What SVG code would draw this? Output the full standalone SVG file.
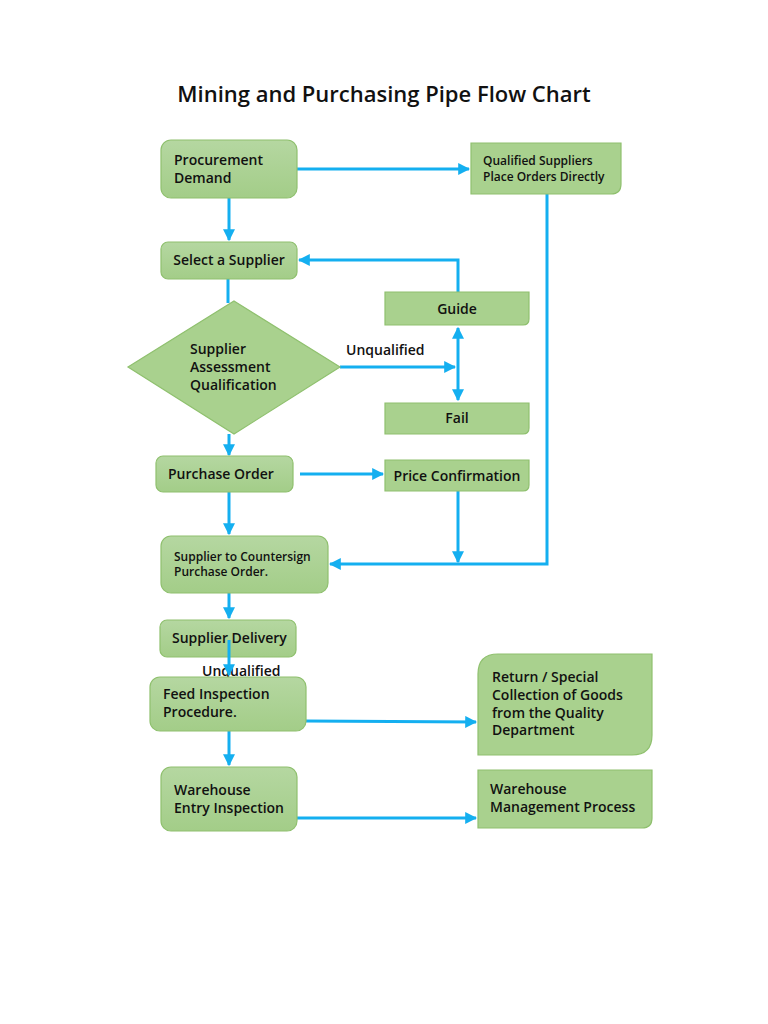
<svg xmlns="http://www.w3.org/2000/svg" width="768" height="1024" viewBox="0 0 768 1024">
<defs>
<linearGradient id="g" x1="0" y1="0" x2="0" y2="1"><stop offset="0" stop-color="#b5d7a1"/><stop offset="1" stop-color="#a3cd88"/></linearGradient>
<marker id="a" viewBox="0 0 10 10" refX="9" refY="5" markerWidth="4" markerHeight="4" orient="auto-start-reverse"><path d="M0,0 L10,5 L0,10 z" fill="#14aff0"/></marker>
</defs>
<style>
text{font-family:"Open Sans","Liberation Sans",sans-serif;font-weight:600;fill:#111}
.n{fill:url(#g);stroke:#8fc06e;stroke-width:1.2}
.f{fill:#a9d18e;stroke:#8fc06e;stroke-width:1.2}
.c line,.c polyline{stroke:#14aff0;stroke-width:3;fill:none}
.m{font-size:14px}.s{font-size:12px}
</style>
<rect width="768" height="1024" fill="#fff"/>
<text x="384" y="102" text-anchor="middle" style="font-size:22px">Mining and Purchasing Pipe Flow Chart</text>
<g class="c">
<line x1="297" y1="169" x2="469" y2="169" marker-end="url(#a)"/>
<line x1="229" y1="198" x2="229" y2="240" marker-end="url(#a)"/>
<polyline points="458,292 458,260 299,260" marker-end="url(#a)"/>
<line x1="228" y1="279" x2="228" y2="303"/>
<line x1="340" y1="367" x2="455" y2="367" marker-end="url(#a)"/>
<line x1="458" y1="328" x2="458" y2="400" marker-start="url(#a)" marker-end="url(#a)"/>
<line x1="229" y1="434" x2="229" y2="455" marker-end="url(#a)"/>
<line x1="300" y1="474" x2="383" y2="474" marker-end="url(#a)"/>
<line x1="229" y1="492" x2="229" y2="534" marker-end="url(#a)"/>
<line x1="458" y1="491" x2="458" y2="562" marker-end="url(#a)"/>
<polyline points="547,194 547,564 330,564" marker-end="url(#a)"/>
<line x1="229" y1="593" x2="229" y2="618" marker-end="url(#a)"/>
<line x1="229" y1="730" x2="229" y2="765" marker-end="url(#a)"/>
<line x1="306" y1="721" x2="476" y2="722" marker-end="url(#a)"/>
<line x1="297" y1="818" x2="476" y2="818" marker-end="url(#a)"/>
</g>
<g id="procurement"><rect class="n" x="161" y="140" width="136" height="58" rx="10"/><text class="m" x="174" y="165">Procurement</text><text class="m" x="174" y="183">Demand</text></g>
<g id="qualified"><path class="f" d="M471,143 H621 V184 Q621,194 611,194 H471 Z"/><text class="s" x="483" y="165">Qualified Suppliers</text><text class="s" x="483" y="181">Place Orders Directly</text></g>
<g id="select"><rect class="n" x="161" y="242" width="136" height="37" rx="7"/><text class="m" x="229" y="265" text-anchor="middle">Select a Supplier</text></g>
<g id="assess"><polygon class="f" points="234,301 340,367 234,434 128,367"/><text class="m" x="190" y="354">Supplier</text><text class="m" x="190" y="372">Assessment</text><text class="m" x="190" y="390">Qualification</text></g>
<text class="m" x="346" y="355">Unqualified</text>
<g id="guide"><path class="f" d="M385,292 H529 V319 Q529,325 523,325 H385 Z"/><text class="m" x="457" y="314" text-anchor="middle">Guide</text></g>
<g id="fail"><path class="f" d="M385,403 H529 V428 Q529,434 523,434 H385 Z"/><text class="m" x="457" y="423" text-anchor="middle">Fail</text></g>
<g id="po"><rect class="n" x="156" y="456" width="137" height="36" rx="7"/><text class="m" x="168" y="479">Purchase Order</text></g>
<g id="price"><path class="f" d="M385,460 H529 V485 Q529,491 523,491 H385 Z"/><text class="m" x="457" y="481" text-anchor="middle">Price Confirmation</text></g>
<g id="countersign"><rect class="n" x="161" y="536" width="167" height="57" rx="10"/><text class="s" x="174" y="561">Supplier to Countersign</text><text class="s" x="174" y="576">Purchase Order.</text></g>
<g id="delivery"><rect class="n" x="160" y="620" width="136" height="37" rx="7"/><text class="m" x="172" y="643">Supplier Delivery</text></g>
<text class="m" x="202" y="676">Unqualified</text>
<line x1="229" y1="640" x2="229" y2="675" stroke="#14aff0" stroke-width="3" marker-end="url(#a)"/>
<g id="feed"><rect class="n" x="150" y="677" width="156" height="54" rx="10"/><text class="m" x="163" y="699">Feed Inspection</text><text class="m" x="163" y="717">Procedure.</text></g>
<g id="return"><path class="f" d="M478,674 Q478,654 498,654 H652 V735 Q652,755 632,755 H478 Z"/><text class="m" x="492" y="682">Return / Special</text><text class="m" x="492" y="700">Collection of Goods</text><text class="m" x="492" y="718">from the Quality</text><text class="m" x="492" y="735">Department</text></g>
<g id="whentry"><rect class="n" x="161" y="767" width="136" height="64" rx="10"/><text class="m" x="174" y="795">Warehouse</text><text class="m" x="174" y="813">Entry Inspection</text></g>
<g id="whmgmt"><path class="f" d="M478,770 H652 V818 Q652,828 642,828 H478 Z"/><text class="m" x="490" y="794">Warehouse</text><text class="m" x="490" y="812">Management Process</text></g>
</svg>
